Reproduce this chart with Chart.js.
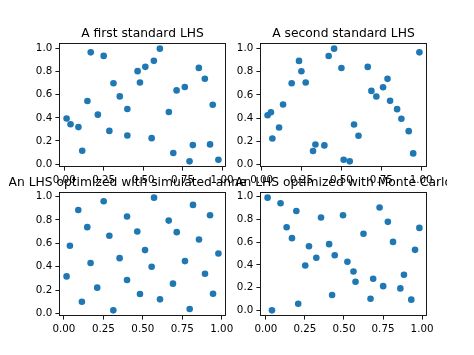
<!DOCTYPE html>
<html>
<head>
<meta charset="utf-8">
<script src="https://cdn.jsdelivr.net/npm/chart.js@4/dist/chart.umd.min.js"></script>
<style>
  html, body { margin: 0; padding: 0; background: #ffffff; }
  body { width: 474px; height: 355px; position: relative; overflow: hidden; }
  canvas { position: absolute; }
</style>
</head>
<body>
<canvas id="c1" width="237" height="184"></canvas>
<canvas id="c2" width="237" height="184"></canvas>
<canvas id="c3" width="237" height="184"></canvas>
<canvas id="c4" width="237" height="184"></canvas>
<script>
// ---- Data ----
const titles = [
  "A first standard LHS",
  "A second standard LHS",
  "An LHS optimized with simulated annealing",
  "An LHS optimized with Monte Carlo"
];
const xTickValues = [0, 0.25, 0.5, 0.75, 1.0];
const xTickLabels = ["0.00", "0.25", "0.50", "0.75", "1.00"];
const yTickValues = [0, 0.2, 0.4, 0.6, 0.8, 1.0];
const yTickLabels = ["0.0", "0.2", "0.4", "0.6", "0.8", "1.0"];

const lhs1X = [0.015,0.040,0.090,0.114,0.147,0.168,0.213,0.250,0.286,0.312,0.352,0.400,0.400,0.465,0.480,0.514,0.554,0.568,0.606,0.663,0.691,0.712,0.764,0.794,0.815,0.853,0.891,0.924,0.941,0.977];
const lhs1Y = [0.394,0.345,0.320,0.115,0.546,0.968,0.428,0.937,0.287,0.700,0.586,0.477,0.247,0.805,0.707,0.842,0.224,0.894,1.000,0.451,0.095,0.638,0.667,0.023,0.164,0.833,0.739,0.170,0.514,0.037];

const lhs2X = [0.037,0.058,0.067,0.109,0.134,0.188,0.234,0.249,0.276,0.322,0.337,0.393,0.420,0.454,0.500,0.514,0.552,0.579,0.607,0.665,0.688,0.719,0.761,0.789,0.805,0.849,0.876,0.922,0.950,0.989];
const lhs2Y = [0.425,0.451,0.224,0.319,0.517,0.701,0.894,0.805,0.707,0.115,0.172,0.164,0.937,1.000,0.833,0.040,0.026,0.345,0.247,0.842,0.635,0.586,0.667,0.739,0.549,0.477,0.394,0.287,0.095,0.968];

const annealX = [0.017,0.038,0.091,0.114,0.148,0.169,0.211,0.252,0.288,0.313,0.353,0.400,0.400,0.465,0.482,0.514,0.556,0.571,0.609,0.664,0.691,0.715,0.767,0.797,0.818,0.856,0.894,0.926,0.945,0.979];
const annealY = [0.318,0.580,0.886,0.102,0.739,0.432,0.222,0.960,0.665,0.028,0.474,0.830,0.287,0.702,0.168,0.543,0.400,0.991,0.122,0.795,0.256,0.696,0.449,0.040,0.929,0.634,0.341,0.841,0.170,0.514];

const monteX = [0.011,0.039,0.094,0.133,0.167,0.195,0.207,0.252,0.276,0.323,0.353,0.405,0.424,0.441,0.494,0.522,0.561,0.574,0.625,0.670,0.687,0.728,0.751,0.781,0.814,0.861,0.884,0.931,0.955,0.983];
const monteY = [0.991,0.000,0.942,0.731,0.635,0.874,0.058,0.395,0.564,0.462,0.816,0.582,0.135,0.485,0.836,0.427,0.342,0.251,0.673,0.102,0.278,0.904,0.213,0.778,0.602,0.193,0.313,0.094,0.532,0.725];

const panelXs = [lhs1X, lhs2X, annealX, monteX];
const panelYs = [lhs1Y, lhs2Y, annealY, monteY];

// ---- Layout (matplotlib-like 2x2 grid) ----
const frames = [ [59, 43], [260, 43], [59, 192], [260, 192] ];
const PAD_L = 50, PAD_T = 30, PAD_R = 20, PAD_B = 30;
const FONT = "'DejaVu Sans', sans-serif";
const DOT = '#1f77b4';

function limits(arr) {
  const mn = Math.min(...arr), mx = Math.max(...arr), r = mx - mn;
  return [mn - 0.05 * r, mx + 0.05 * r];
}

const framePlugin = {
  id: 'frameAndTitle',
  afterDatasetsDraw(chart, args, opts) {
    const a = chart.chartArea, ctx = chart.ctx;
    ctx.save();
    ctx.strokeStyle = '#000';
    ctx.lineWidth = 0.9;
    ctx.strokeRect(a.left + 0.5, a.top + 0.5, a.right - a.left - 1, a.bottom - a.top - 1);
    ctx.fillStyle = '#000';
    ctx.font = "12.3px " + FONT;
    ctx.textAlign = 'center';
    ctx.textBaseline = 'alphabetic';
    ctx.fillText(opts.text, (a.left + a.right) / 2, a.top - 6.2);
    ctx.restore();
  }
};

function zeroPad(s) {
  s.paddingLeft = 0; s.paddingRight = 0; s.paddingTop = 0; s.paddingBottom = 0;
}

for (let i = 0; i < 4; i++) {
  const cv = document.getElementById('c' + (i + 1));
  cv.style.left = (frames[i][0] - PAD_L) + 'px';
  cv.style.top = (frames[i][1] - PAD_T) + 'px';
  const xs = panelXs[i], ys = panelYs[i];
  const [xmin, xmax] = limits(xs);
  const [ymin, ymax] = limits(ys);
  const pts = xs.map((x, k) => ({ x: x, y: ys[k] }));
  new Chart(cv, {
    type: 'scatter',
    data: { datasets: [{
      data: pts,
      backgroundColor: DOT,
      borderWidth: 0,
      pointRadius: 3.3,
      pointHoverRadius: 3.3
    }]},
    plugins: [framePlugin],
    options: {
      responsive: false,
      animation: false,
      devicePixelRatio: 1,
      events: [],
      layout: { padding: { left: 0, top: PAD_T, right: PAD_R, bottom: 0 } },
      plugins: {
        legend: { display: false },
        tooltip: { enabled: false },
        title: { display: false },
        frameAndTitle: { text: titles[i] }
      },
      scales: {
        x: {
          type: 'linear', min: xmin, max: xmax,
          afterBuildTicks: s => { s.ticks = xTickValues.map(v => ({ value: v })); },
          afterFit: s => { s.height = PAD_B; zeroPad(s); },
          border: { display: false },
          grid: { drawOnChartArea: false, drawTicks: true, tickLength: 3.6, tickColor: '#000', lineWidth: 0.9 },
          ticks: {
            color: '#000', padding: 3.2, maxRotation: 0, autoSkip: false,
            font: { family: FONT, size: 10.3 },
            callback: (v) => { const k = xTickValues.findIndex(t => Math.abs(t - v) < 1e-9); return k >= 0 ? xTickLabels[k] : ''; }
          }
        },
        y: {
          type: 'linear', min: ymin, max: ymax,
          afterBuildTicks: s => { s.ticks = yTickValues.map(v => ({ value: v })); },
          afterFit: s => { s.width = PAD_L; zeroPad(s); },
          border: { display: false },
          grid: { drawOnChartArea: false, drawTicks: true, tickLength: 3.6, tickColor: '#000', lineWidth: 0.9 },
          ticks: {
            color: '#000', padding: 3.2, autoSkip: false,
            font: { family: FONT, size: 10.3 },
            callback: (v) => { const k = yTickValues.findIndex(t => Math.abs(t - v) < 1e-9); return k >= 0 ? yTickLabels[k] : ''; }
          }
        }
      }
    }
  });
}
</script>
</body>
</html>
